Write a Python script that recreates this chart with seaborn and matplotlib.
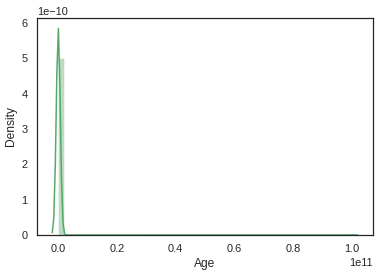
import warnings
warnings.filterwarnings("ignore")
import numpy as np
import pandas as pd
import matplotlib
matplotlib.use("Agg")
import matplotlib.pyplot as plt
import seaborn as sns

# Age values (typical ages with their counts) plus one extreme outlier
age_values = [1, 5, 10, 15, 18, 20, 22, 25, 28, 30, 32, 35, 38, 40, 45, 50, 55, 60, 65, 70, 75, 80]
age_counts = [20, 30, 25, 40, 70, 90, 100, 115, 105, 100, 95, 85, 75, 65, 60, 50, 40, 30, 20, 15, 10, 9]
outlier_ages = [1.0e11]

ages = np.concatenate([np.repeat(age_values, age_counts).astype(float), outlier_ages])
df = pd.DataFrame({"Age": ages})

sns.set_theme(style="white")
plt.rcParams["font.family"] = ["Liberation Sans", "DejaVu Sans"]

fig = plt.figure(figsize=(378 / 72, 276 / 72), dpi=72)
ax = fig.add_axes([37 / 378, 1 - 235 / 276, (373 - 37) / 378, (235 - 18) / 276])
sns.distplot(df["Age"], color="g", ax=ax)
ax.set_xlabel("Age")
ax.set_ylabel("Density")
fig.savefig("out.png", dpi=72)
